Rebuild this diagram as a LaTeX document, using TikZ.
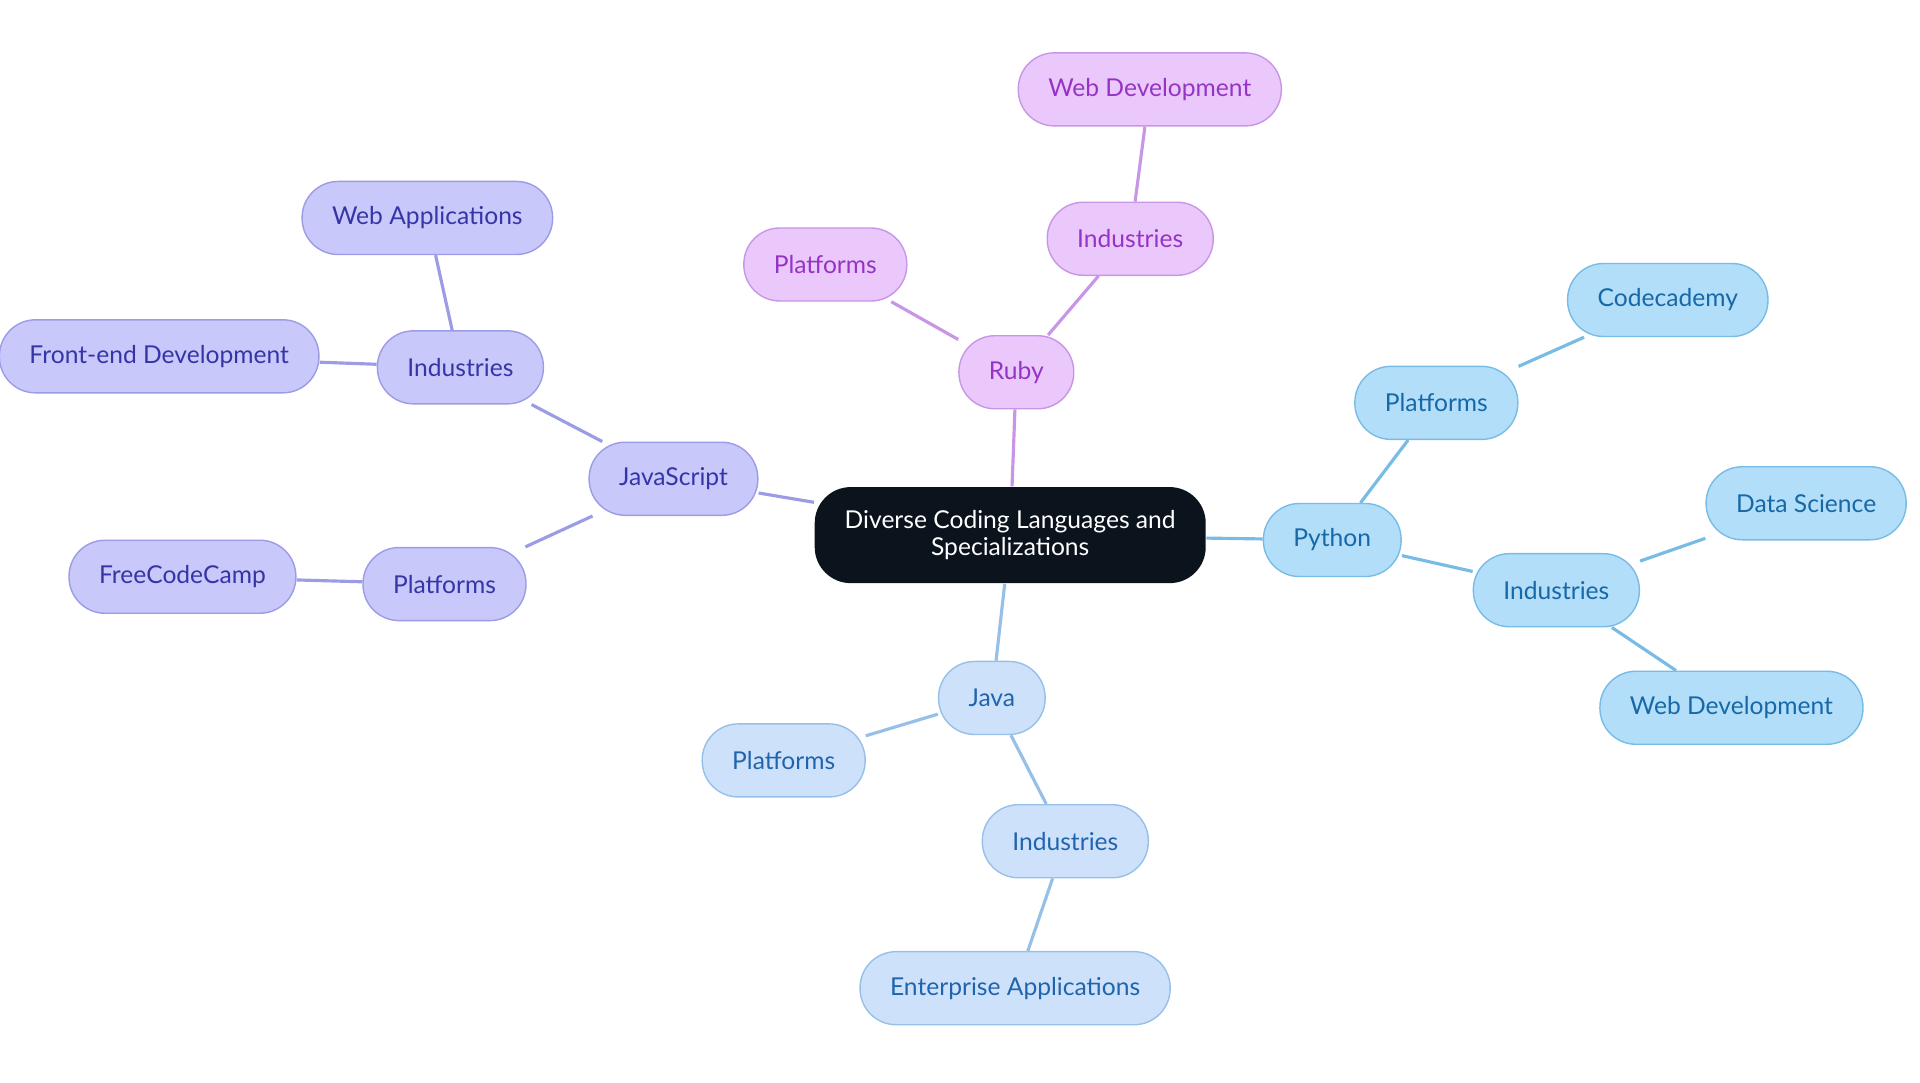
\documentclass[tikz,border=0pt]{standalone}
\usepackage{fontspec}
\setmainfont{Lato}
\definecolor{jsfill}{HTML}{C8C8FA}\definecolor{jsline}{HTML}{9C9CE6}\definecolor{jstext}{HTML}{3535A8}
\definecolor{rbfill}{HTML}{EBC8FB}\definecolor{rbline}{HTML}{C896E6}\definecolor{rbtext}{HTML}{9534C4}
\definecolor{pyfill}{HTML}{B2DEFA}\definecolor{pyline}{HTML}{78BCE6}\definecolor{pytext}{HTML}{1768A6}
\definecolor{jvfill}{HTML}{CDE2FA}\definecolor{jvline}{HTML}{96C0E8}\definecolor{jvtext}{HTML}{2064AE}
\definecolor{rootfill}{HTML}{0B141C}
\tikzset{
  bubble/.style={rounded corners=0.36cm, minimum height=0.73cm, inner xsep=0.3cm, font=\fontsize{7}{8}\selectfont},
  js/.style={bubble, fill=jsfill, draw=jsline, text=jstext},
  rb/.style={bubble, fill=rbfill, draw=rbline, text=rbtext},
  py/.style={bubble, fill=pyfill, draw=pyline, text=pytext},
  jv/.style={bubble, fill=jvfill, draw=jvline, text=jvtext},
  link/.style={line width=0.9pt}
}
\begin{document}
\begin{tikzpicture}[x=0.012245cm, y=-0.012245cm]
	\useasboundingbox (0,0) rectangle (1568,884);
	\node[bubble, fill=rootfill, text=white, minimum width=3.48cm, minimum height=0.96cm, align=center, font=\fontsize{7}{7.5}\selectfont] (root) at (825,437) {Diverse Coding Languages and\\Specializations};
	% Ruby
	\node[rb] (ruby) at (830,304) {Ruby};
	\node[rb] (rbplat) at (674,216) {Platforms};
	\node[rb] (rbind) at (923,195) {Industries};
	\node[rb] (rbweb) at (939,73) {Web Development};
	% JavaScript
	\node[js] (js) at (550,391) {JavaScript};
	\node[js] (jsind) at (376,300) {Industries};
	\node[js] (jsweb) at (349,178) {Web Applications};
	\node[js] (jsfront) at (130,291) {Front-end Development};
	\node[js] (jsplat) at (363,477) {Platforms};
	\node[js] (jsfcc) at (149,471) {FreeCodeCamp};
	% Python
	\node[py] (py) at (1088,441) {Python};
	\node[py] (pyplat) at (1173,329) {Platforms};
	\node[py] (pycode) at (1362,245) {Codecademy};
	\node[py] (pyind) at (1271,482) {Industries};
	\node[py] (pyds) at (1475,411) {Data Science};
	\node[py] (pyweb) at (1414,578) {Web Development};
	% Java
	\node[jv] (java) at (810,570) {Java};
	\node[jv] (jvplat) at (640,621) {Platforms};
	\node[jv] (jvind) at (870,687) {Industries};
	\node[jv] (jvent) at (829,807) {Enterprise Applications};
	% links
	\draw[link, rbline] (root) -- (ruby);
	\draw[link, rbline] (ruby) -- (rbplat);
	\draw[link, rbline] (ruby) -- (rbind);
	\draw[link, rbline] (rbind) -- (rbweb);
	\draw[link, jsline] (root) -- (js);
	\draw[link, jsline] (js) -- (jsind);
	\draw[link, jsline] (jsind) -- (jsweb);
	\draw[link, jsline] (jsind) -- (jsfront);
	\draw[link, jsline] (js) -- (jsplat);
	\draw[link, jsline] (jsplat) -- (jsfcc);
	\draw[link, pyline] (root) -- (py);
	\draw[link, pyline] (py) -- (pyplat);
	\draw[link, pyline] (pyplat) -- (pycode);
	\draw[link, pyline] (py) -- (pyind);
	\draw[link, pyline] (pyind) -- (pyds);
	\draw[link, pyline] (pyind) -- (pyweb);
	\draw[link, jvline] (root) -- (java);
	\draw[link, jvline] (java) -- (jvplat);
	\draw[link, jvline] (java) -- (jvind);
	\draw[link, jvline] (jvind) -- (jvent);
\end{tikzpicture}
\end{document}
